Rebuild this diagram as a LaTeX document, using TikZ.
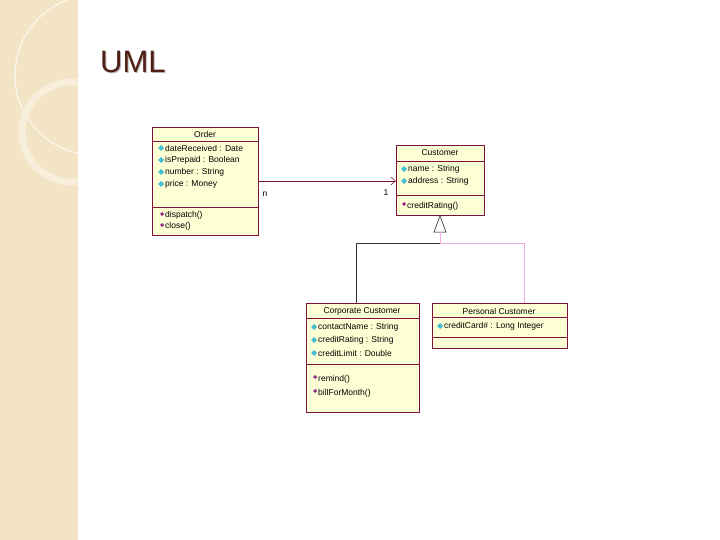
\documentclass[tikz,border=0pt]{standalone}
\usepackage{fontspec}
\setmainfont{Liberation Sans}
\usetikzlibrary{arrows.meta}
\definecolor{strip}{RGB}{242,228,196}
\definecolor{boxfill}{RGB}{255,255,214}
\definecolor{boxline}{RGB}{128,16,64}
\definecolor{titlec}{RGB}{80,30,20}
\definecolor{attric}{RGB}{70,190,210}
\definecolor{opic}{RGB}{150,40,130}
\definecolor{pinkl}{RGB}{240,170,220}
\begin{document}
\begin{tikzpicture}[x=1pt,y=-1pt,
  txt/.style={font=\fontsize{8.5}{9}\selectfont,anchor=west,inner sep=0pt},
  hdr/.style={font=\fontsize{8.5}{9}\selectfont,inner sep=0pt},
  bx/.style={draw=boxline,fill=boxfill,line width=0.6pt}]
\useasboundingbox (0,0) rectangle (720,540);
\fill[white] (0,0) rectangle (720,540);
\fill[strip] (0,0) rectangle (78,540);
\begin{scope}
\clip (0,0) rectangle (78,540);
\draw[white!70!strip,line width=1.2pt] (95,75) circle (80);
\draw[white!40!strip,line width=7pt] (72,132) circle (50);
\end{scope}
\node[font=\fontsize{31}{31}\selectfont,text=gray!60,anchor=west,inner sep=0pt] at (101,63) {UML};
\node[font=\fontsize{31}{31}\selectfont,text=titlec,anchor=west,inner sep=0pt] (title) at (100,62) {UML};
% Order
\draw[bx] (152,127) rectangle (258,235);
\draw[boxline] (152,141) -- (258,141) (152,207) -- (258,207);
\node[hdr] (order) at (205,134) {Order};
\foreach \t [count=\i] in {dateReceived : Date,isPrepaid : Boolean,number : String,price : Money}
  {\fill[attric] (158,148+\i*12-12) -- ++(3,-3) -- ++(3,3) -- ++(-3,3) -- cycle;
   \node[txt] at (165,148+\i*12-12) {\t};}
\foreach \t [count=\i] in {dispatch(),close()}
  {\fill[opic] (160,214+\i*11-11) -- ++(2,-2) -- ++(2,2) -- ++(-2,2) -- cycle;
   \node[txt] at (165,215+\i*11-11) {\t};}
\coordinate (oR) at (258,181);
% Customer
\draw[bx] (396,145) rectangle (484,215);
\draw[boxline] (396,161) -- (484,161) (396,195) -- (484,195);
\node[hdr] (cust) at (440,153) {Customer};
\foreach \t [count=\i] in {name : String,address : String}
  {\fill[attric] (401,169+\i*12-12) -- ++(3,-3) -- ++(3,3) -- ++(-3,3) -- cycle;
   \node[txt] at (408,169+\i*12-12) {\t};}
\fill[opic] (402,204) -- ++(2,-2) -- ++(2,2) -- ++(-2,2) -- cycle;
\node[txt] at (407,206) {creditRating()};
\coordinate (cL) at (396,181);
\draw[boxline,line width=0.5pt,-{Straight Barb[length=5pt,width=8pt]}] (oR) -- (cL);
\node[hdr] at (265,194) {n};
\node[hdr] at (386,193) {1};
% Corporate
\draw[bx] (306,303) rectangle (419,412);
\draw[boxline] (306,318) -- (419,318) (306,364) -- (419,364);
\node[hdr] (corp) at (362,311) {Corporate Customer};
\foreach \t [count=\i] in {contactName : String,creditRating : String,creditLimit : Double}
  {\fill[attric] (311,327+\i*13-13) -- ++(3,-3) -- ++(3,3) -- ++(-3,3) -- cycle;
   \node[txt] at (318,327+\i*13-13) {\t};}
\foreach \t [count=\i] in {remind(),billForMonth()}
  {\fill[opic] (313,377+\i*14-14) -- ++(2,-2) -- ++(2,2) -- ++(-2,2) -- cycle;
   \node[txt] at (318,379+\i*14-14) {\t};}
% Personal
\draw[bx] (432,303) rectangle (567,348);
\draw[boxline] (432,317) -- (567,317) (432,337) -- (567,337);
\node[hdr] (pers) at (499,311) {Personal Customer};
\fill[attric] (437,326) -- ++(3,-3) -- ++(3,3) -- ++(-3,3) -- cycle;
\node[txt] at (444,326) {creditCard\# : Long Integer};
% generalization
\coordinate (tip) at (440,216);
\coordinate (j) at (440,243);
\draw[black,line width=0.5pt,fill=white] (tip) -- (434,232) -- (446,232) -- cycle;
\draw[pinkl,line width=0.8pt] (440,232) -- (j) -- (524,243) -- (524,303);
\draw[black!80,line width=0.8pt] (j) -- (356,243) -- (356,303);
\end{tikzpicture}
\end{document}
